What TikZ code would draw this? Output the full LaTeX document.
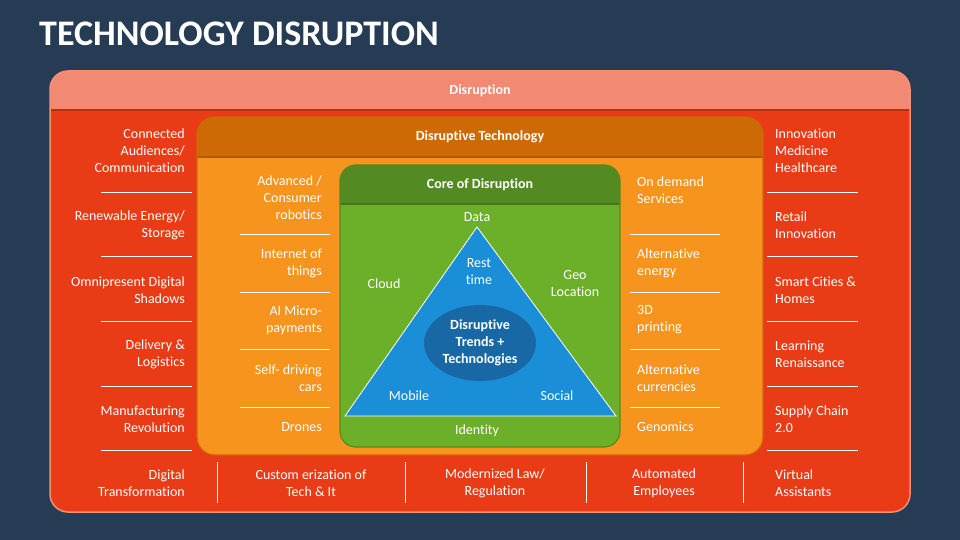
\documentclass[tikz,border=0pt]{standalone}
\usepackage{fontspec}
\setmainfont[RawFeature={-liga;-clig;-dlig}]{Carlito}
\usetikzlibrary{shapes.geometric}
\definecolor{bg}{HTML}{263B54}
\definecolor{redo}{HTML}{E93C16}
\definecolor{salmon}{HTML}{F28A73}
\definecolor{salmonb}{HTML}{F59078}
\definecolor{darkred}{HTML}{B8300E}
\definecolor{orng}{HTML}{F7941E}
\definecolor{dorng}{HTML}{CE6A05}
\definecolor{grn}{HTML}{6CB02A}
\definecolor{dgrn}{HTML}{548A22}
\definecolor{blu}{HTML}{1B8ED8}
\definecolor{dblu}{HTML}{1868A6}
\begin{document}
\begin{tikzpicture}[x=1pt,y=-1pt,
  txt/.style={text=white, font=\fontsize{14}{17}\selectfont, inner sep=0pt},
  rt/.style={txt,align=right,anchor=east},
  lt/.style={txt,align=left,anchor=west},
  ct/.style={txt,align=center},
  hdr/.style={text=white, font=\fontsize{14}{16}\bfseries\selectfont, inner sep=0pt},
  sepline/.style={white, line width=1pt}]
\useasboundingbox (0,0) rectangle (960,540);
\fill[bg] (0,0) rectangle (960,540);
\node[anchor=west, text=white, font=\fontsize{36}{40}\bfseries\selectfont, inner sep=0pt] (title) at (39,34) {TECHNOLOGY DISRUPTION};

% outer box
\begin{scope}
\clip[rounded corners=18] (50,71) rectangle (910,512);
\fill[redo] (50,71) rectangle (910,512);
\fill[darkred] (50,108) rectangle (910,111.5);
\fill[salmon] (50,71) rectangle (910,109);
\end{scope}
\draw[salmonb, line width=1.5pt, rounded corners=18] (50,71) rectangle (910,512);
\node[hdr] (disr) at (480,91) {Disruption};

% disruptive technology box
\begin{scope}
\clip[rounded corners=18] (197,117) rectangle (763,455);
\fill[orng] (197,117) rectangle (763,455);
\fill[dorng!85!black] (197,155) rectangle (763,158);
\fill[dorng] (197,117) rectangle (763,156);
\end{scope}
\draw[dorng, line width=1.2pt, rounded corners=18] (197,117) rectangle (763,455);
\node[hdr] (dtech) at (480,137) {Disruptive Technology};

% core box
\begin{scope}
\clip[rounded corners=16] (340,165) rectangle (620,447);
\fill[grn] (340,165) rectangle (620,447);
\fill[dgrn!85!black] (340,202) rectangle (620,205);
\fill[dgrn] (340,165) rectangle (620,203);
\end{scope}
\draw[dgrn, line width=1.2pt, rounded corners=16] (340,165) rectangle (620,447);
\node[hdr] (core) at (480,185) {Core of Disruption};

% triangle
\coordinate (apex) at (477,227);
\coordinate (bl) at (345,416);
\coordinate (br) at (616,416);
\filldraw[fill=blu, draw=white, line width=0.8pt] (apex) -- (bl) -- (br) -- cycle;
\node[ellipse, fill=dblu, minimum width=112pt, minimum height=76pt, inner sep=0pt, text=white,
  font=\fontsize{14}{17}\bfseries\selectfont, align=center] (center) at (480,343) {Disruptive\\Trends +\\Technologies};

\node[ct] (data) at (477,217) {Data};
\node[ct] (cloud) at (384,284) {Cloud};
\node[ct] (geo) at (575,284) {Geo\\Location};
\node[ct] (rest) at (479,272) {Rest\\time};
\node[ct] (mobile) at (409,396) {Mobile};
\node[ct] (social) at (557,396) {Social};
\node[ct] (ident) at (477,431) {Identity};

% left outer column
\node[rt] (l1) at (185,151) {Connected\\Audiences/\\Communication};
\node[rt] (l2) at (185,225) {Renewable Energy/\\Storage};
\node[rt] (l3) at (185,290) {Omnipresent Digital\\Shadows};
\node[rt] (l4) at (185,354) {Delivery \&\\Logistics};
\node[rt] (l5) at (185,419) {Manufacturing\\Revolution};
\node[rt] (l6) at (185,483) {Digital\\Transformation};
\foreach \y in {192,256,321,386,450} \draw[sepline] (101,\y) -- (192,\y);

% right outer column
\node[lt] (r1) at (775,151) {Innovation\\Medicine\\Healthcare};
\node[lt] (r2) at (775,225) {Retail\\Innovation};
\node[lt] (r3) at (775,290) {Smart Cities \&\\Homes};
\node[lt] (r4) at (775,354) {Learning\\Renaissance};
\node[lt] (r5) at (775,419) {Supply Chain\\2.0};
\node[lt] (r6) at (775,483) {Virtual\\Assistants};
\foreach \y in {192,256,321,386,450} \draw[sepline] (767,\y) -- (858,\y);

% inner left column
\node[rt] (il1) at (322,198) {Advanced /\\Consumer\\robotics};
\node[rt] (il2) at (322,263) {Internet of\\things};
\node[rt] (il3) at (322,320) {AI Micro-\\payments};
\node[rt] (il4) at (322,378) {Self- driving\\cars};
\node[rt] (il5) at (322,427) {Drones};
\foreach \y in {234,292,349,407} \draw[sepline] (240,\y) -- (330,\y);

% inner right column
\node[lt] (ir1) at (637,190) {On demand\\Services};
\node[lt] (ir2) at (637,263) {Alternative\\energy};
\node[lt] (ir3) at (637,320) {3D\\printing};
\node[lt] (ir4) at (637,378) {Alternative\\currencies};
\node[lt] (ir5) at (637,427) {Genomics};
\foreach \y in {234,292,349,407} \draw[sepline] (630,\y) -- (720,\y);

% bottom row
\node[ct] (b1) at (311,483) {Custom erization of\\Tech \& It};
\node[ct] (b2) at (495,483) {Modernized Law/\\Regulation};
\node[ct] (b3) at (664,483) {Automated\\Employees};
\foreach \x in {217,405,586,743} \draw[sepline] (\x,462) -- (\x,503);
\end{tikzpicture}
\end{document}
